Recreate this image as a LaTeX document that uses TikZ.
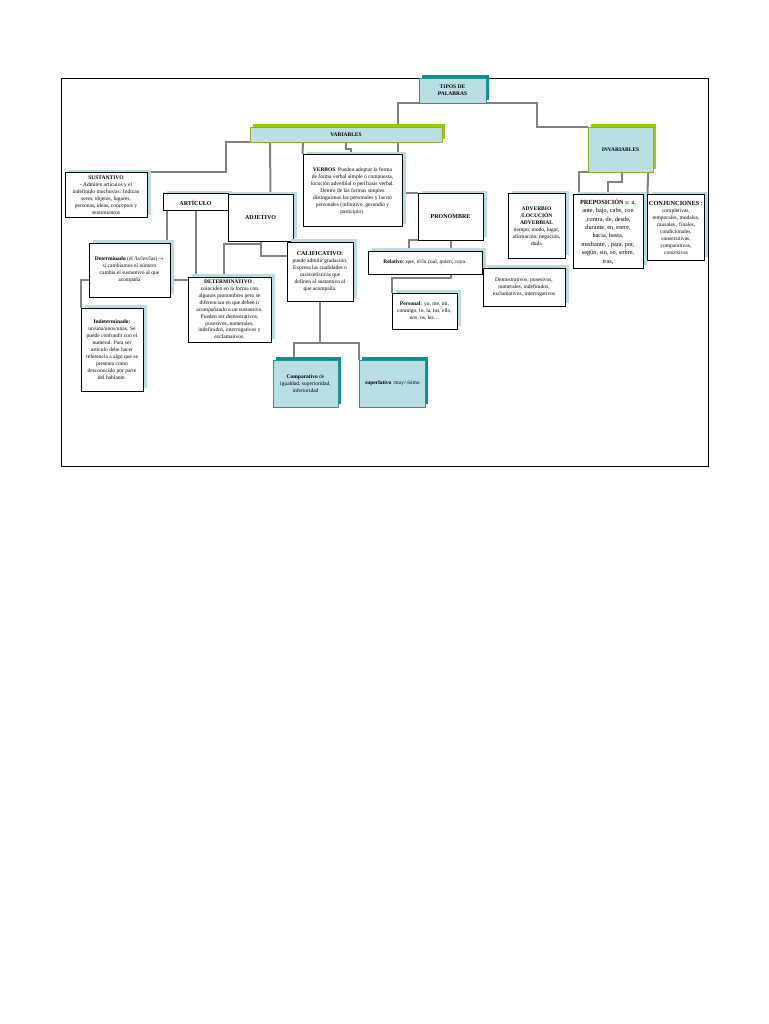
\documentclass[tikz,border=0pt]{standalone}
\usepackage{fontspec}
\setmainfont{Liberation Serif}
\usetikzlibrary{shadows, positioning, backgrounds}
\definecolor{shblue}{RGB}{183,221,227}
\definecolor{boxblue}{RGB}{185,223,228}
\definecolor{limegreen}{RGB}{153,204,0}
\definecolor{darkteal}{RGB}{0,150,150}
\definecolor{linkgray}{RGB}{128,128,128}
\tikzset{%
  box/.style={draw=black, line width=1pt, fill=white, align=center, inner sep=1pt,
    general shadow={shadow xshift=4pt, shadow yshift=3pt, fill=shblue}},
  headbox/.style={draw=#1!60!gray, line width=0.4pt, fill=boxblue, align=center, inner sep=1pt,
    font=\fontsize{5.5}{7}\selectfont\bfseries,
    general shadow={shadow xshift=3pt, shadow yshift=3pt, fill=#1}},
  title/.style={font=\fontsize{6}{7}\selectfont\bfseries},
  link/.style={draw=linkgray, line width=2pt}
}

\begin{document}
\begin{tikzpicture}[x=1pt, y=-1pt, font=\fontsize{5.5}{7}\selectfont]
  \useasboundingbox (0,0) rectangle (768,1024);
  \draw[line width=0.8pt] (61,78) rectangle (708,466);

  \node[headbox=darkteal, minimum width=67pt, minimum height=25pt] (tipos) at (452.5,90.5) {TIPOS DE\\PALABRAS};
  \node[headbox=limegreen, minimum width=192pt, minimum height=15pt] (var) at (346,134.5) {VARIABLES};
  \node[headbox=limegreen, minimum width=65pt, minimum height=45pt] (invar) at (620.5,149.5) {INVARIABLES};

  \node[box, minimum width=82pt, minimum height=45pt] (sust) at (106,195.5)
    {\textbf{SUSTANTIVO}\\- Admiten artículos y el\\indefinido muchos/as. Indican\\seres, objetos, lugares,\\personas, ideas, conceptos y\\sentimientos};
  \node[box, title, minimum width=65pt, minimum height=17pt] (art) at (195.5,202.5) {ARTÍCULO};
  \node[box, title, minimum width=65pt, minimum height=46pt] (adj) at (260.5,218) {ADJETIVO};
  \node[box, minimum width=99pt, minimum height=72pt] (verbos) at (352.5,191)
    {\textbf{VERBOS}. Pueden adoptar la forma\\de forma verbal simple o compuesta,\\locución adverbial o perífrasis verbal.\\Dentro de las formas simples\\distinguimos las personales y las no\\personales (infinitivo, gerundio y\\participio).};
  \node[box, title, minimum width=65pt, minimum height=46pt] (pron) at (450.5,217) {PRONOMBRE};
  \node[box, minimum width=57pt, minimum height=64pt] (adv) at (536.5,226)
    {\textbf{ADVERBIO}\\\textbf{/LOCUCIÓN}\\\textbf{ADVERBIAL}\\tiempo, modo, lugar,\\afirmación, negación,\\duda};
  \node[box, font=\fontsize{6.3}{8.4}\selectfont, minimum width=70pt, minimum height=73pt] (prep) at (608,231.5)
    {\textbf{PREPOSICIÓN} s: a,\\ante, bajo, cabe, con\\,contra, de, desde,\\durante, en, entre,\\hacia, hasta,\\mediante, , para, por,\\según, sin, so, sobre,\\tras,};
  \node[box, minimum width=56pt, minimum height=65pt] (conj) at (676,227.5)
    {\textbf{\fontsize{6.3}{7}\selectfont CONJUNCIONES :}\\completivas,\\temporales, modales,\\causales., finales,\\condicionales,\\consecutivas,\\comparativas,\\concesivas};

  \node[box, minimum width=81pt, minimum height=54pt] (det) at (129.5,270)
    {\textbf{Determinado} (el /la/los/las)$\rightarrow$\\si cambiamos el número\\cambia el sustantivo al que\\acompaña};
  \node[box, minimum width=62pt, minimum height=83pt] (indet) at (112,349.5)
    {\textbf{Indeterminado:}\\un/una/unos/unas. Se\\puede confundir con el\\numeral. Para ser\\artículo debe hacer\\referencia a algo que se\\presenta como\\desconocido por parte\\del hablante.};
  \node[box, font=\fontsize{5.5}{6.9}\selectfont, minimum width=83pt, minimum height=65pt] (detv) at (229.5,309.5)
    {\textbf{DETERMINATIVO} ,\\coinciden en la forma con\\algunos pronombres pero se\\diferencian en que deben ir\\acompañando a un sustantivo.\\Pueden ser demostrativos,\\posesivos, numerales,\\indefinidos, interrogativos y\\exclamativos.};
  \node[box, minimum width=66pt, minimum height=59pt] (calif) at (320,271.5)
    {\textbf{\fontsize{6}{7}\selectfont CALIFICATIVO:}\\puede admitir gradación.\\Expresa las cualidades o\\características que\\definen al sustantivo al\\que acompaña.};
  \node[box, minimum width=114pt, minimum height=23pt] (rel) at (425,262.5)
    {\textbf{Relativo}: que, el/la cual, quien, cuyo.};
  \node[box, minimum width=82pt, minimum height=38pt] (demo) at (524,287)
    {Demostrativos, posesivos,\\numerales, indefinidos,\\exclamativos, interrogativos};
  \node[box, minimum width=65pt, minimum height=36pt] (pers) at (424.5,311)
    {\textbf{Personal:} yo, me, mi,\\conmigo, lo, la, los, ello,\\nos, os, les…};

  \node[headbox=darkteal, font=\fontsize{5.5}{7}\selectfont, minimum width=65pt, minimum height=47pt] (comp) at (305.5,383.5)
    {\textbf{Comparativo} de\\igualdad, superioridad,\\inferioridad};
  \node[headbox=darkteal, font=\fontsize{5.5}{7}\selectfont, minimum width=66pt, minimum height=47pt, right=21pt of comp] (sup)
    {\textbf{superlativo} :muy/-ísimo};

  \begin{scope}[on background layer]
    \draw[link] (tipos.south west) -| ([xshift=52pt]var.north);
    \draw[link] (tipos.south east) -- ++(51,0) |- (invar.north west);
    \draw[link] (var.south west) -- ++(-24,0) |- (sust.north east);
    \draw[link] (var.south) ++(-76,0) -- ([xshift=10pt]adj.north);
    \draw[link] (var.south) ++(-43,0) -- (verbos.north west);
    \draw[link] (var.south) -- ++(0,7) -| ([xshift=-1.5pt]verbos.north);
    \draw[link] ([xshift=52pt]var.south) |- (pron.north west);
    \draw[link] ([xshift=-28.5pt]art.south) -- ([xshift=37.5pt]det.north);
    \draw[link] (art.south) -- (art.south |- detv.north);
    \draw[link] ([yshift=-10pt]det.east) -- ([yshift=29.5pt]detv.west);
    \draw[link] ([yshift=-10pt]det.west) -| (indet.north west);
    \draw[link] (adj.south) -- ++(0,2) -| ([xshift=-5.5pt]detv.north);
    \draw[link] (adj.south) |- ([yshift=15.5pt]calif.west);
    \draw[link] (calif.south) -- ++(0,41) coordinate (cfork);
    \draw[link] (cfork) -| ([xshift=-11.5pt]comp.north);
    \draw[link] (cfork) -| (sup.north west);
    \draw[link] ([yshift=1pt]pron.south west) -| ([xshift=-16pt]rel.north);
    \draw[link] (pron.south) -- (pron.south |- rel.north);
    \draw[link] ([xshift=26pt]rel.south) -- ++(0,3) -| (pers.north west);
    \draw[link] (invar.south west) -| ([xshift=6pt]prep.north west);
    \draw[link] ([xshift=1.5pt]invar.south) -- ++(0,10) -| (prep.north);
    \draw[link] ([xshift=-5pt]invar.south east) -- (conj.north west);
  \end{scope}
\end{tikzpicture}
\end{document}
